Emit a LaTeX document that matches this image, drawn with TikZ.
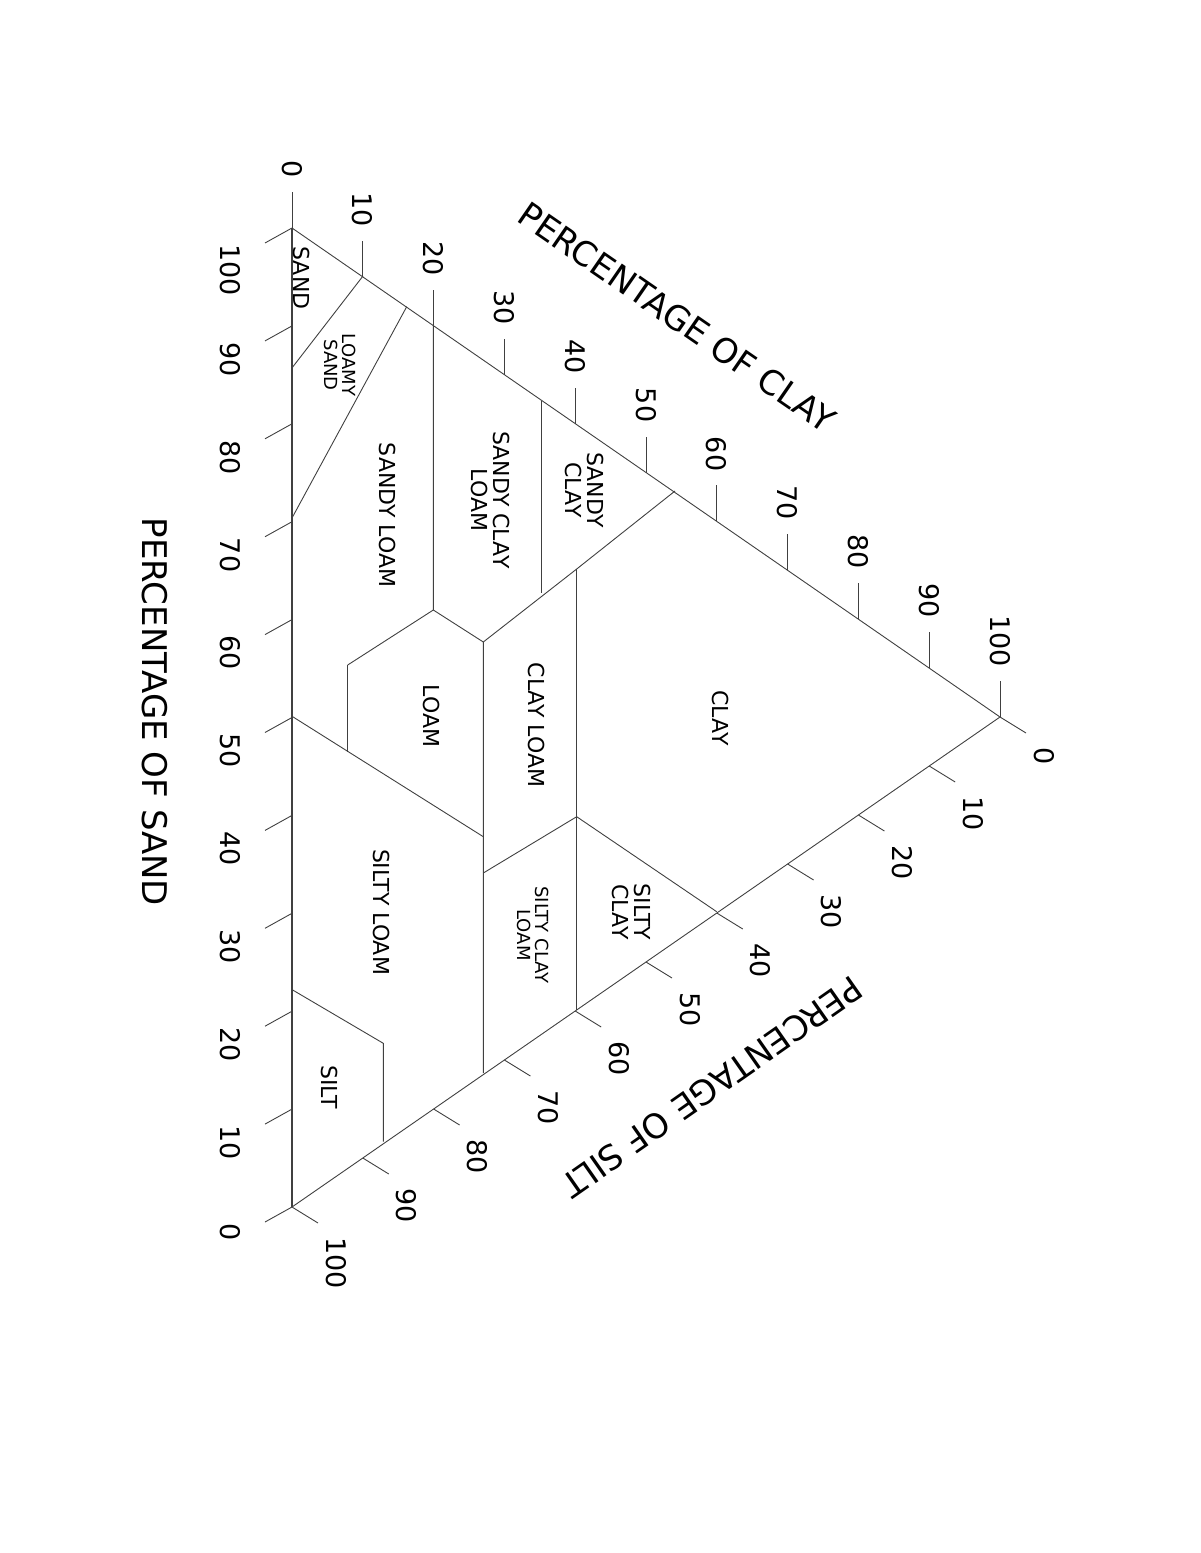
\documentclass[tikz,border=0pt]{standalone}
\usepackage{fontspec}
\setmainfont{DejaVu Sans}
\usetikzlibrary{calc}
\begin{document}
\begin{tikzpicture}[x=1pt,y=-1pt,
  ln/.style={line width=0.9pt,black!75},
  num/.style={font=\fontsize{27}{27}\selectfont,inner sep=0pt,rotate=-90},
  reg/.style={font=\fontsize{22}{22}\selectfont,align=center,inner sep=0pt,rotate=-90},
  regs/.style={font=\fontsize{18}{18}\selectfont,align=center,inner sep=0pt,rotate=-90},
  ttl/.style={font=\fontsize{34}{34}\selectfont,inner sep=0pt}]
\useasboundingbox (0,0) rectangle (1200,1553);
\coordinate (S) at (292,228);
\coordinate (T) at (292,1207);
\coordinate (C) at (1000,717);
\draw[ln,line width=1.2pt] (S) -- (T);
\draw[ln] (S) -- (C) -- (T);
% sand ticks
\foreach \i in {0,...,10}{
  \pgfmathsetmacro{\yy}{228+97.9*\i}
  \pgfmathtruncatemacro{\v}{100-10*\i}
  \coordinate (s\i) at (292,\yy);
  \draw[ln] (s\i) -- ++(-27,15);
  \node[num,anchor=west] (sl\i) at ($(s\i)+(-62,16)$) {\v};
}
% clay ticks
\foreach \i in {0,...,10}{
  \pgfmathsetmacro{\xx}{292+70.8*\i}
  \pgfmathsetmacro{\yy}{228+48.9*\i}
  \pgfmathtruncatemacro{\v}{10*\i}
  \coordinate (c\i) at (\xx,\yy);
  \draw[ln] (c\i) -- ++(0,-36);
  \node[num,anchor=east] (cl\i) at ($(c\i)+(0,-50)$) {\v};
}
% silt ticks
\foreach \j in {0,...,10}{
  \pgfmathsetmacro{\xx}{292+70.8*(10-\j)}
  \pgfmathsetmacro{\yy}{1207-49*(10-\j)}
  \pgfmathtruncatemacro{\v}{10*\j}
  \coordinate (t\j) at (\xx,\yy);
  \draw[ln] (t\j) -- ++(26,16);
  \node[num,anchor=west] (tl\j) at ($(t\j)+(44,30)$) {\v};
}
% region boundaries
\coordinate (a1) at (363,276); \coordinate (a2) at (292.7,367);
\coordinate (b1) at (406.7,306.7); \coordinate (b2) at (292.7,516.7);
\coordinate (d1) at (433.3,326); \coordinate (d2) at (433.3,610);
\coordinate (e1) at (541.7,401); \coordinate (e2) at (541.7,593);
\coordinate (f1) at (675,491); \coordinate (f2) at (576.7,569); \coordinate (f3) at (483.3,642);
\coordinate (g1) at (576.7,816.7);
\coordinate (h1) at (347.7,665); \coordinate (h2) at (347.7,751.7);
\coordinate (k1) at (292.7,716.7); \coordinate (k2) at (483.3,836.7);
\coordinate (m1) at (483.3,1073); \coordinate (m2) at (483.3,873);
\coordinate (n1) at (716.7,911.7); \coordinate (n2) at (576.7,1010);
\coordinate (p1) at (292.7,990); \coordinate (p2) at (383.3,1043.3); \coordinate (p3) at (383.3,1141.7);
\draw[ln] (a1) -- (a2);
\draw[ln] (b1) -- (b2);
\draw[ln] (d1) -- (d2) -- (f3);
\draw[ln] (e1) -- (e2);
\draw[ln] (f1) -- (f2) -- (f3) -- (m1);
\draw[ln] (f2) -- (g1) -- (n2);
\draw[ln] (d2) -- (h1);
\draw[ln,line width=1.2pt] (h1) -- (h2);
\draw[ln] (k1) -- (k2);
\draw[ln] (m2) -- (g1) -- (n1);
\draw[ln] (p1) -- (p2) -- (p3);
% region labels
\node[reg] (rsand) at (302,278) {SAND};
\node[regs] (rls) at (340,365) {LOAMY\\SAND};
\node[reg] (rsl) at (388,515) {SANDY LOAM};
\node[reg] (rscl) at (491,500) {SANDY CLAY\\LOAM};
\node[reg] (rsc) at (585,490) {SANDY\\CLAY};
\node[reg] (rclay) at (720,718) {CLAY};
\node[reg] (rloam) at (432,716) {LOAM};
\node[reg] (rcl) at (537,725) {CLAY LOAM};
\node[reg] (rsil) at (382,912) {SILTY LOAM};
\node[reg] (rsic) at (632,912) {SILTY\\CLAY};
\node[regs] (rsicl) at (533,935) {SILTY CLAY\\LOAM};
\node[reg] (rsilt) at (330,1087) {SILT};
% titles
\node[ttl,rotate=-34.6] (tclay) at (677,317) {PERCENTAGE OF CLAY};
\node[ttl,rotate=-90] (tsand) at (155,712) {PERCENTAGE OF SAND};
\node[ttl,rotate=-145] (tsilt) at (712,1087) {PERCENTAGE OF SILT};
\end{tikzpicture}
\end{document}
